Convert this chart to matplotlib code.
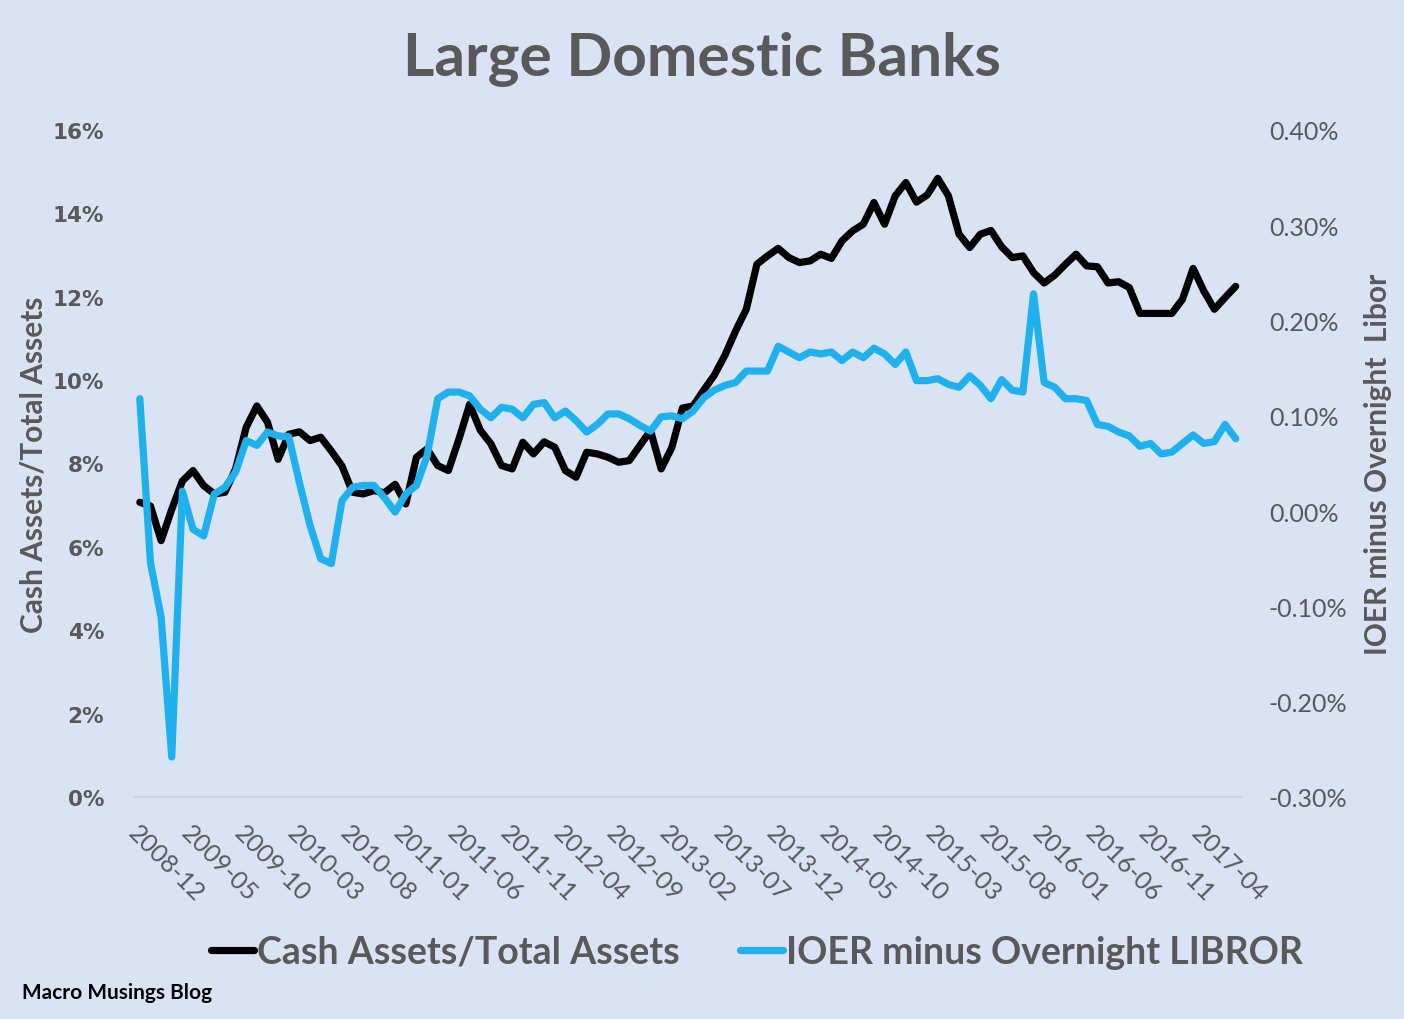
import matplotlib
matplotlib.use("Agg")
import matplotlib.pyplot as plt
from matplotlib.ticker import FuncFormatter, FixedLocator
from matplotlib.lines import Line2D

# ---------------- data ----------------
tick_labels = ["2008-12", "2009-05", "2009-10", "2010-03", "2010-08", "2011-01",
               "2011-06", "2011-11", "2012-04", "2012-09", "2013-02", "2013-07",
               "2013-12", "2014-05", "2014-10", "2015-03", "2015-08", "2016-01",
               "2016-06", "2016-11", "2017-04"]

# Cash assets / total assets (%), monthly 2008-12 .. 2017-07
cash_ratio = [7.07, 6.98, 6.15, 6.90, 7.58, 7.83, 7.47, 7.27, 7.31, 7.87,
              8.87, 9.38, 8.99, 8.10, 8.70, 8.76, 8.55, 8.63, 8.30, 7.94,
              7.31, 7.27, 7.35, 7.30, 7.50, 7.03, 8.15, 8.35, 7.95, 7.83,
              8.59, 9.42, 8.80, 8.47, 7.95, 7.87, 8.51, 8.23, 8.52, 8.39,
              7.83, 7.67, 8.27, 8.23, 8.15, 8.03, 8.07, 8.43, 8.79, 7.87,
              8.38, 9.33, 9.38, 9.76, 10.12, 10.60, 11.18, 11.70, 12.78, 12.98,
              13.16, 12.94, 12.82, 12.86, 13.02, 12.92, 13.34, 13.58, 13.74, 14.26,
              13.74, 14.42, 14.74, 14.27, 14.44, 14.84, 14.42, 13.50, 13.18, 13.50,
              13.59, 13.20, 12.94, 12.98, 12.58, 12.33, 12.52, 12.78, 13.02, 12.74,
              12.72, 12.33, 12.36, 12.22, 11.60, 11.60, 11.60, 11.60, 11.94, 12.68,
              12.14, 11.70, 11.98, 12.25]

# IOER minus overnight LIBOR (%), same months
ioer_spread = [0.118, -0.054, -0.111, -0.258, 0.021, -0.019, -0.026, 0.018, 0.025, 0.041,
               0.074, 0.069, 0.083, 0.079, 0.078, 0.030, -0.015, -0.050, -0.055, 0.011,
               0.025, 0.027, 0.027, 0.014, -0.001, 0.018, 0.027, 0.058, 0.118, 0.125,
               0.125, 0.121, 0.107, 0.098, 0.109, 0.107, 0.098, 0.112, 0.114, 0.098,
               0.105, 0.095, 0.083, 0.091, 0.102, 0.102, 0.097, 0.090, 0.084, 0.099,
               0.100, 0.097, 0.105, 0.119, 0.127, 0.132, 0.135, 0.147, 0.147, 0.147,
               0.173, 0.167, 0.161, 0.167, 0.165, 0.167, 0.158, 0.167, 0.161, 0.171,
               0.165, 0.154, 0.167, 0.137, 0.137, 0.139, 0.133, 0.130, 0.142, 0.132,
               0.118, 0.138, 0.127, 0.125, 0.228, 0.135, 0.130, 0.118, 0.118, 0.116,
               0.091, 0.089, 0.083, 0.079, 0.068, 0.071, 0.060, 0.062, 0.071, 0.080,
               0.071, 0.073, 0.091, 0.076]

left_ticks = [0, 2, 4, 6, 8, 10, 12, 14, 16]
right_ticks = [-0.30, -0.20, -0.10, 0.00, 0.10, 0.20, 0.30, 0.40]

# ---------------- style ----------------
BG = "#DAE3F3"
GREY = "#595959"
BLUE = "#1EB1EE"
CAL = ["Lato", "DejaVu Sans"]

fig = plt.figure(figsize=(14.04, 10.20), dpi=100, facecolor=BG)
ax = fig.add_axes([134.5 / 1404, (1020 - 798) / 1020, (1241 - 134.5) / 1404, (798 - 131) / 1020])
ax.set_facecolor(BG)
ax2 = ax.twinx()

x = list(range(len(cash_ratio)))
ax.plot(x, cash_ratio, color="black", lw=5.2, solid_capstyle="round",
        solid_joinstyle="round", zorder=3)
ax2.plot(x, ioer_spread, color=BLUE, lw=5.2, solid_capstyle="round",
         solid_joinstyle="round", zorder=4)

ax.set_xlim(-0.5, len(cash_ratio) - 0.5)
ax.set_ylim(0, 16)
ax2.set_ylim(-0.30, 0.40)

for a in (ax, ax2):
    for s in ("top", "left", "right", "bottom"):
        a.spines[s].set_visible(False)
ax.spines["bottom"].set_visible(True)
ax.spines["bottom"].set_color("#D0D4DA")
ax.spines["bottom"].set_linewidth(1.5)

ax.yaxis.set_major_locator(FixedLocator(left_ticks))
ax.yaxis.set_major_formatter(FuncFormatter(lambda v, p: f"{v:.0f}%"))
ax.tick_params(axis="y", length=0, pad=22, labelsize=15.5, labelcolor=GREY)
for t in ax.get_yticklabels():
    t.set_fontweight("bold")
    t.set_family("DejaVu Sans")

ax2.yaxis.set_major_locator(FixedLocator(right_ticks))
ax2.yaxis.set_major_formatter(FuncFormatter(lambda v, p: f"{v:.2f}%"))
ax2.tick_params(axis="y", length=0, pad=20, labelsize=18, labelcolor=GREY)
for t in ax2.get_yticklabels():
    t.set_family(CAL)

ax.set_xticks(list(range(0, len(cash_ratio), 5))[:len(tick_labels)])
ax.set_xticklabels(tick_labels, rotation=-45, ha="left", va="top",
                   rotation_mode="anchor", fontsize=18, color=GREY, family=CAL)
ax.tick_params(axis="x", length=0, pad=17)

ax.set_ylabel("Cash Assets/Total Assets", fontsize=21.5, fontweight="bold",
              color=GREY, family=CAL)
ax.yaxis.set_label_coords(-0.079, 0.5)
ax2.set_ylabel("IOER minus Overnight  Libor", fontsize=21.5, fontweight="bold",
               color=GREY, family=CAL, rotation=90)
ax2.yaxis.set_label_coords(1.111, 0.5)

fig.text(0.5, 0.942, "Large Domestic Banks", ha="center", va="center",
         fontsize=43.5, fontweight="bold", color=GREY, family=CAL)

handles = [Line2D([0], [0], color="black", lw=5.2, solid_capstyle="round"),
           Line2D([0], [0], color=BLUE, lw=5.2, solid_capstyle="round")]
leg = fig.legend(handles, ["Cash Assets/Total Assets", "IOER minus Overnight LIBROR"],
                 loc="center", bbox_to_anchor=(0.539, 0.066), ncol=2, frameon=False,
                 handlelength=1.15, handletextpad=0.08, columnspacing=1.6,
                 prop={"family": CAL, "size": 27, "weight": "bold"})
for t in leg.get_texts():
    t.set_color(GREY)

fig.text(22 / 1404, 1 - 993 / 1020, "Macro Musings Blog", ha="left", va="center",
         fontsize=15, fontweight="bold", color="black", family=CAL)

fig.savefig("out.png", dpi=100, facecolor=BG)
